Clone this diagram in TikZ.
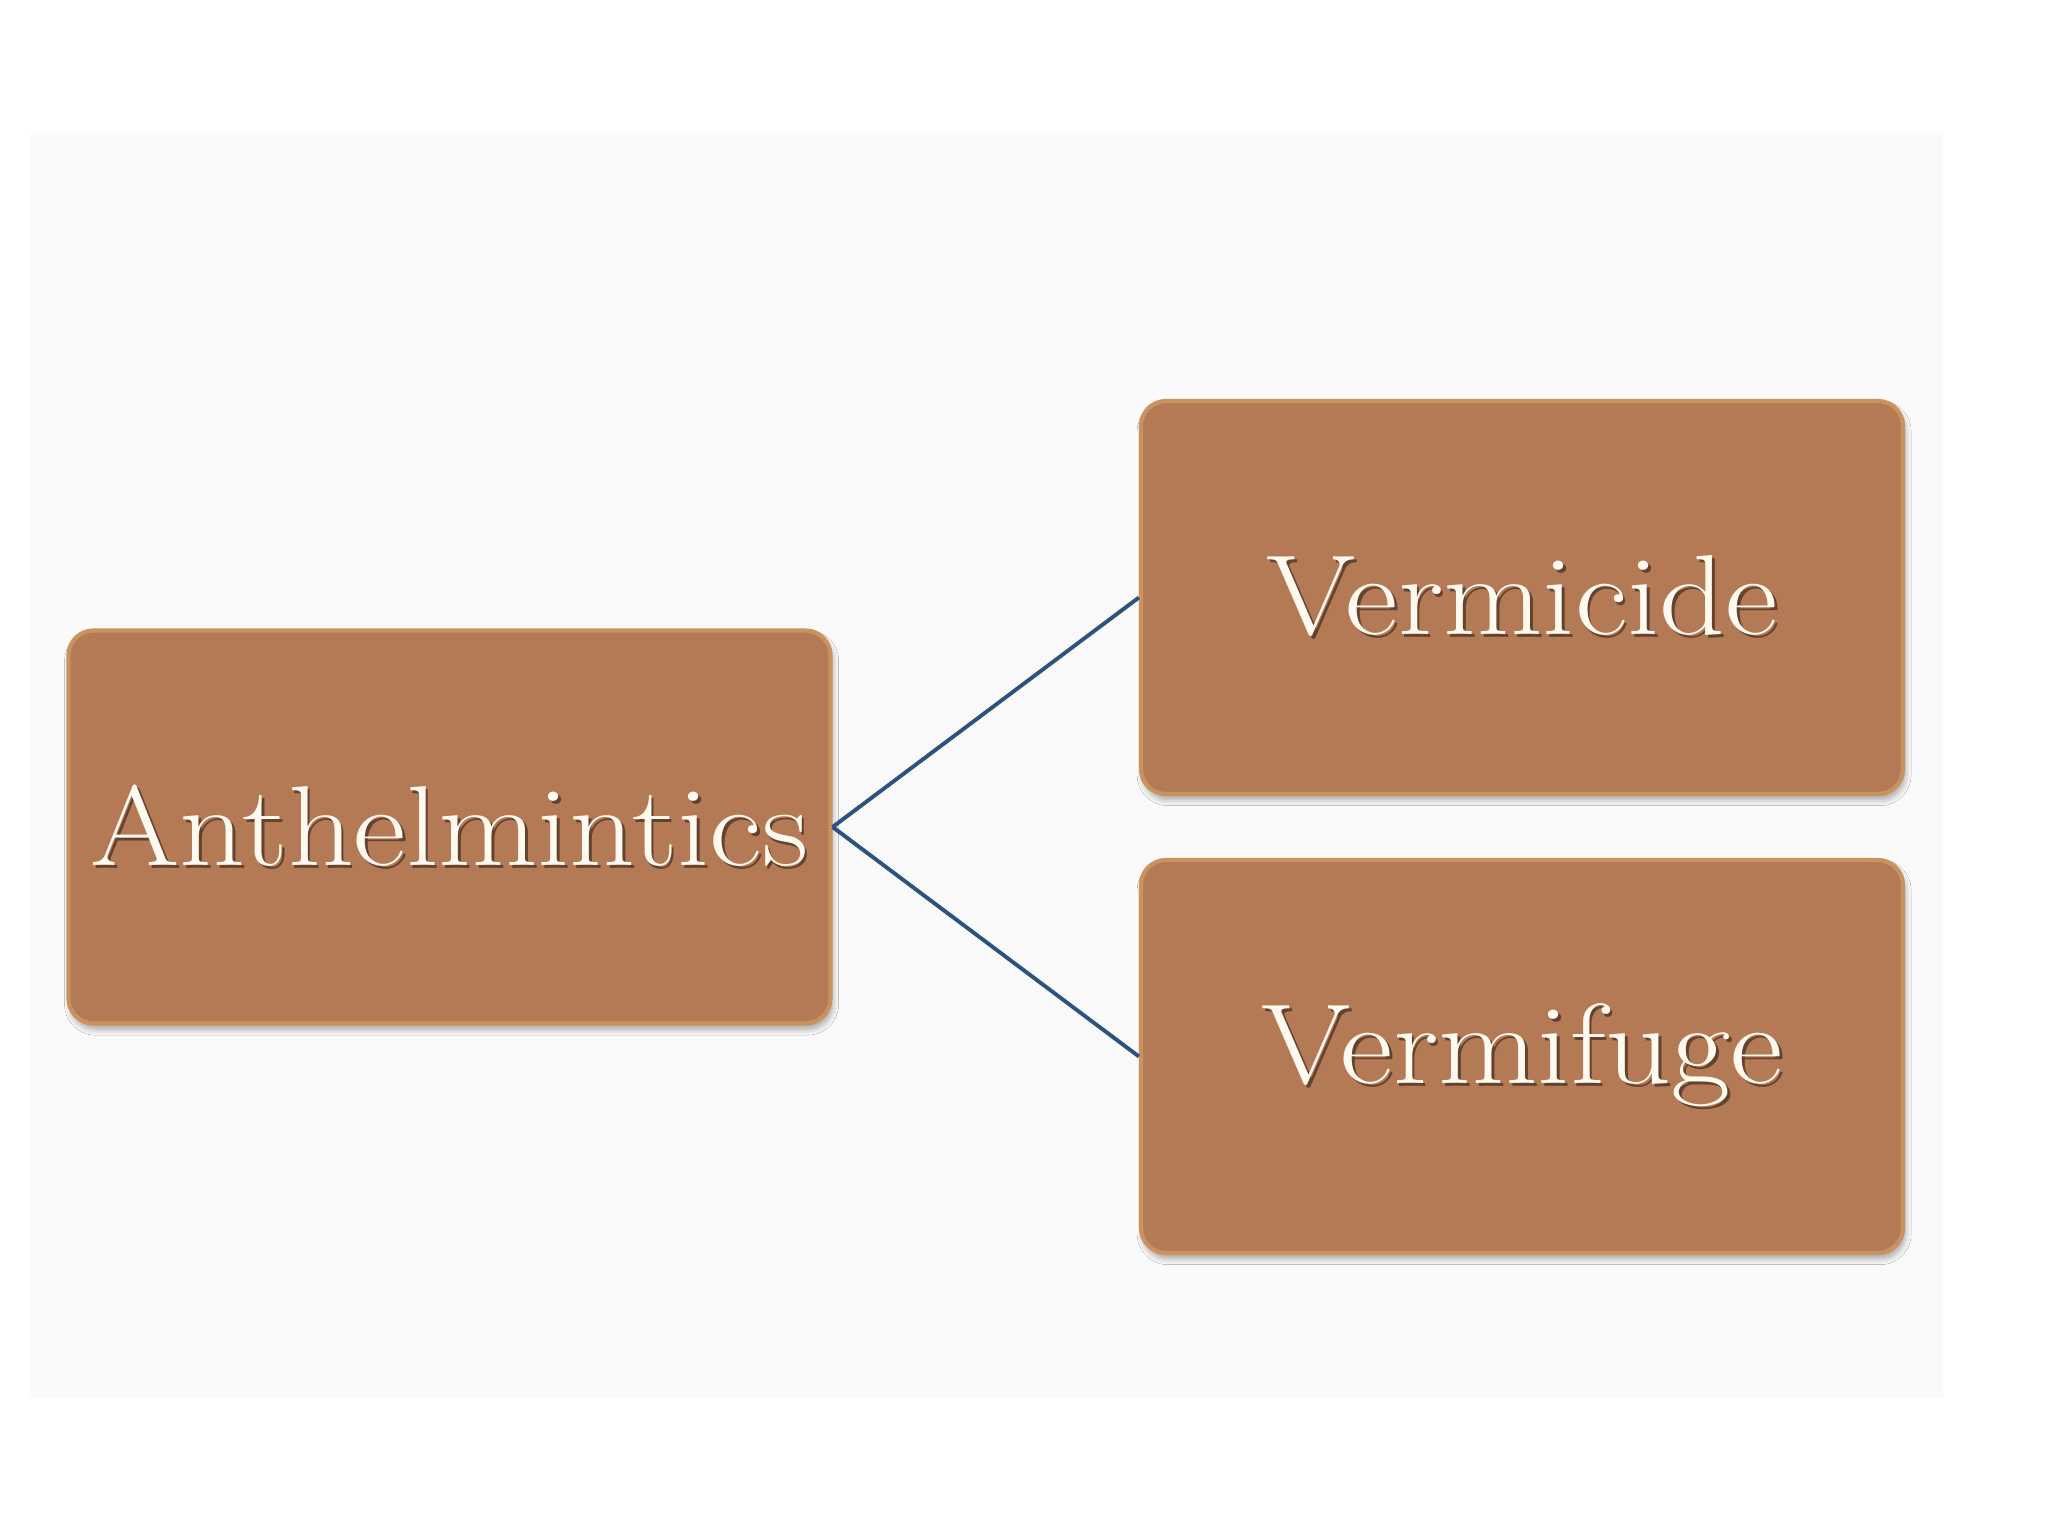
\documentclass[tikz,border=0pt]{standalone}
\usetikzlibrary{shadows.blur}
\definecolor{boxfill}{HTML}{B47A56}
\definecolor{boxedge}{HTML}{C9925F}
\definecolor{panel}{HTML}{FAFAFA}
\definecolor{linkblue}{HTML}{2C527E}
\definecolor{cream}{HTML}{FFF9EF}
\colorlet{textshade}{black!45!boxfill}
\newcommand{\shadowedlabel}[1]{\scalebox{1.13}[1]{\rlap{\kern0.7pt\raisebox{-1pt}{\textcolor{textshade}{#1}}}\textcolor{cream}{#1}}}
\tikzset{
  brownbox/.style={draw=boxedge, line width=1.2pt, fill=boxfill, rounded corners=0.25cm,
    minimum width=7.62cm, minimum height=3.93cm, inner sep=0pt,
    font=\fontsize{32.4}{38}\selectfont,
    blur shadow={shadow xshift=0.6pt, shadow yshift=-1.6pt, shadow blur steps=6, shadow opacity=35}},
  link/.style={draw=linkblue, line width=1.1pt}
}
\begin{document}
\begin{tikzpicture}
\useasboundingbox (0,0) rectangle (20.48,-15.36);
\fill[white] (0,0) rectangle (20.48,-15.36);
\fill[panel] (0.29,-1.35) rectangle (19.43,-13.98);
% boxes with their labels
\node[brownbox] (anth) at (4.495,-8.27) {\shadowedlabel{Anthelmintics}};
\node[brownbox] (vcid) at (15.22,-5.975) {\shadowedlabel{Vermicide}};
\node[brownbox] (vfug) at (15.22,-10.565) {\shadowedlabel{Vermifuge}};
% connectors
\draw[link] (anth.east) -- (vcid.west);
\draw[link] (anth.east) -- (vfug.west);
\end{tikzpicture}
\end{document}
